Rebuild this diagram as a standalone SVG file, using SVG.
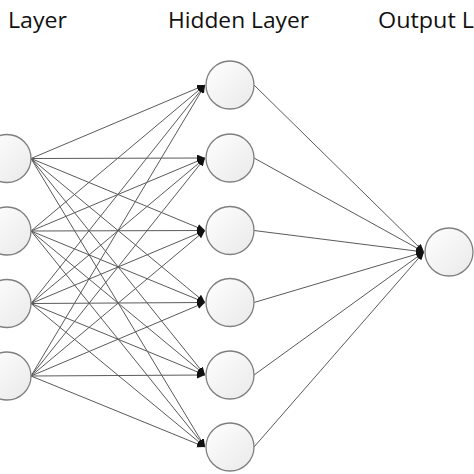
<svg xmlns="http://www.w3.org/2000/svg" width="474" height="474" viewBox="0 0 474 474">
<style>
.node{fill:url(#g);stroke:#7f7f7f;stroke-width:1.3}
.lbl{font-family:"Open Sans","Noto Sans",sans-serif;font-size:21px;fill:#111}
.c{stroke:#5a5a5a;stroke-width:1;fill:none;marker-end:url(#ah)}
</style>
<defs>
<linearGradient id="g" x1="0" y1="0" x2="1" y2="1">
<stop offset="0" stop-color="#ffffff"/>
<stop offset="1" stop-color="#e9e9e9"/>
</linearGradient>
<marker id="ah" markerUnits="userSpaceOnUse" markerWidth="10" markerHeight="8" refX="8" refY="3.5" orient="auto">
<path d="M0,0 L8,3.5 L0,7 z" fill="#111"/>
</marker>
</defs>
<rect width="474" height="474" fill="#fff"/>
<g id="labels">
<text class="lbl" x="8" y="28" textLength="59" lengthAdjust="spacingAndGlyphs">Layer</text>
<text class="lbl" x="168" y="28" textLength="141" lengthAdjust="spacingAndGlyphs">Hidden Layer</text>
<text class="lbl" x="378" y="28" textLength="96" lengthAdjust="spacingAndGlyphs">Output L</text>
</g>
<g id="connectors">
<path class="c" d="M31,158.5L205,85"/><path class="c" d="M31,158.5L205,158"/><path class="c" d="M31,158.5L205,230.5"/><path class="c" d="M31,158.5L205,302.5"/><path class="c" d="M31,158.5L205,375"/><path class="c" d="M31,158.5L205,447"/>
<path class="c" d="M31,231L205,85"/><path class="c" d="M31,231L205,158"/><path class="c" d="M31,231L205,230.5"/><path class="c" d="M31,231L205,302.5"/><path class="c" d="M31,231L205,375"/><path class="c" d="M31,231L205,447"/>
<path class="c" d="M31,303.5L205,85"/><path class="c" d="M31,303.5L205,158"/><path class="c" d="M31,303.5L205,230.5"/><path class="c" d="M31,303.5L205,302.5"/><path class="c" d="M31,303.5L205,375"/><path class="c" d="M31,303.5L205,447"/>
<path class="c" d="M31,376L205,85"/><path class="c" d="M31,376L205,158"/><path class="c" d="M31,376L205,230.5"/><path class="c" d="M31,376L205,302.5"/><path class="c" d="M31,376L205,375"/><path class="c" d="M31,376L205,447"/>
<path class="c" d="M254,85L424,252"/><path class="c" d="M254,158L424,252"/><path class="c" d="M254,230.5L424,252"/><path class="c" d="M254,302.5L424,252"/><path class="c" d="M254,375L424,252"/><path class="c" d="M254,447L424,252"/>
</g>
<g id="input1"><circle class="node" cx="7" cy="158.5" r="24"/></g>
<g id="input2"><circle class="node" cx="7" cy="231" r="24"/></g>
<g id="input3"><circle class="node" cx="7" cy="303.5" r="24"/></g>
<g id="input4"><circle class="node" cx="7" cy="376" r="24"/></g>
<g id="hidden1"><circle class="node" cx="230" cy="85" r="24"/></g>
<g id="hidden2"><circle class="node" cx="230" cy="158" r="24"/></g>
<g id="hidden3"><circle class="node" cx="230" cy="230.5" r="24"/></g>
<g id="hidden4"><circle class="node" cx="230" cy="302.5" r="24"/></g>
<g id="hidden5"><circle class="node" cx="230" cy="375" r="24"/></g>
<g id="hidden6"><circle class="node" cx="230" cy="447" r="24"/></g>
<g id="output1"><circle class="node" cx="449" cy="252" r="24"/></g>
</svg>
